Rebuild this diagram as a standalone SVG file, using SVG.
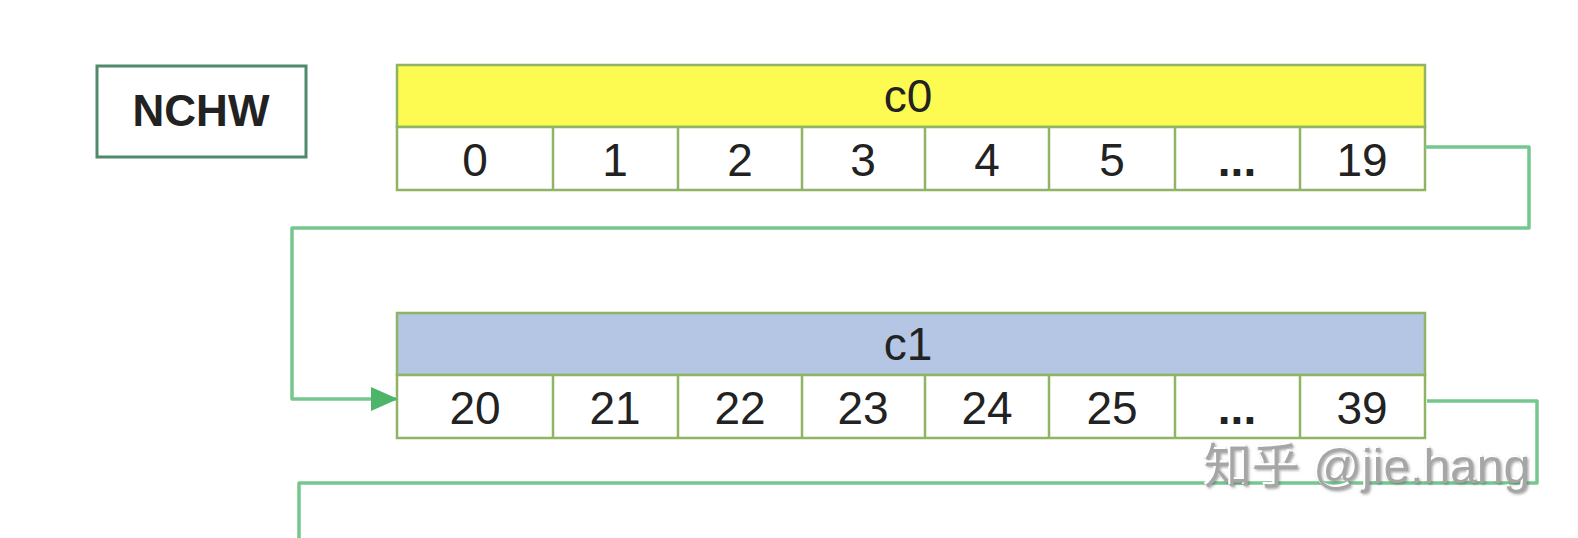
<svg xmlns="http://www.w3.org/2000/svg" width="1578" height="538" viewBox="0 0 1578 538">
<style>
.bg{fill:#ffffff}
.grid{fill:none;stroke:#8fb564;stroke-width:2.5}
.cell{fill:#ffffff;stroke:#8fb564;stroke-width:2.5}
.h0{fill:#fdfb52;stroke:#8fb564;stroke-width:2.5}
.h1{fill:#b4c6e4;stroke:#8fb564;stroke-width:2.5}
.t{font-family:"Liberation Sans",Arial,sans-serif;font-size:46px;fill:#222;text-anchor:middle}
.dots{font-weight:bold}
.conn{fill:none;stroke:#74c78e;stroke-width:3.5;stroke-linejoin:round}
.lbl{fill:#fff;stroke:#4f8a6b;stroke-width:3}
.wm{font-family:"Liberation Sans","Noto Sans CJK SC",sans-serif;font-size:48px;fill:#a6a6a6}
</style>
<defs>
<marker id="arr" viewBox="0 0 27 24" refX="26" refY="12" markerWidth="27" markerHeight="24" markerUnits="userSpaceOnUse" orient="auto">
<path d="M0 0 L27 12 L0 24 Z" fill="#4cb56a"/>
</marker>
<filter id="emb" x="-5%" y="-20%" width="110%" height="140%">
<feDropShadow dx="-2" dy="-2" stdDeviation="0.5" flood-color="#ffffff" flood-opacity="1"/>
<feDropShadow dx="1.5" dy="1.5" stdDeviation="0.8" flood-color="#555555" flood-opacity="0.5"/>
</filter>
</defs>
<rect class="bg" x="0" y="0" width="1578" height="538"/>

<g id="label-nchw">
<rect class="lbl" x="97" y="66" width="209" height="91"/>
<text class="t" x="201" y="126" font-weight="bold" style="font-size:44px">NCHW</text>
</g>

<g id="table-c0">
<rect class="h0" x="397" y="65" width="1028" height="62"/>
<text class="t" x="908" y="112">c0</text>
<rect class="cell" x="397" y="127" width="1028" height="63"/>
<path class="grid" d="M553 127V190M678 127V190M802 127V190M925 127V190M1049 127V190M1175 127V190M1300 127V190"/>
<text class="t" x="475" y="176">0</text>
<text class="t" x="615" y="176">1</text>
<text class="t" x="740" y="176">2</text>
<text class="t" x="863" y="176">3</text>
<text class="t" x="987" y="176">4</text>
<text class="t" x="1112" y="176">5</text>
<text class="t dots" x="1237" y="176">...</text>
<text class="t" x="1362" y="176">19</text>
</g>

<g id="table-c1">
<rect class="h1" x="397" y="313" width="1028" height="62"/>
<text class="t" x="908" y="360">c1</text>
<rect class="cell" x="397" y="375" width="1028" height="63"/>
<path class="grid" d="M553 375V438M678 375V438M802 375V438M925 375V438M1049 375V438M1175 375V438M1300 375V438"/>
<text class="t" x="475" y="424">20</text>
<text class="t" x="615" y="424">21</text>
<text class="t" x="740" y="424">22</text>
<text class="t" x="863" y="424">23</text>
<text class="t" x="987" y="424">24</text>
<text class="t" x="1112" y="424">25</text>
<text class="t dots" x="1237" y="424">...</text>
<text class="t" x="1362" y="424">39</text>
</g>

<g id="connectors">
<path class="conn" d="M1425 147H1529V228H292V399H397" marker-end="url(#arr)"/>
<path class="conn" d="M1427 401H1537V483H299V540"/>
</g>

<g id="watermark">
<text class="wm" x="1204" y="483" filter="url(#emb)">知乎 @jie.hang</text>
</g>
</svg>
